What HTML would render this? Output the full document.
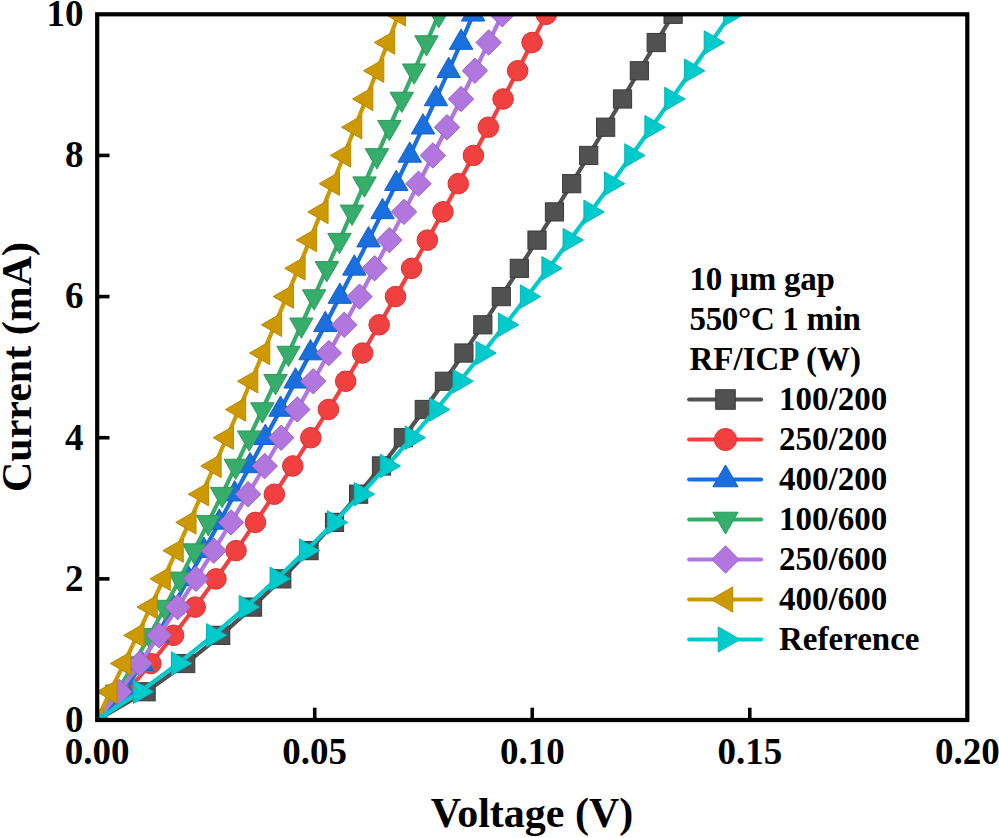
<!DOCTYPE html><html><head><meta charset="utf-8"><style>html,body{margin:0;padding:0;background:#fff}svg{display:block}</style></head><body><svg width="999" height="838" viewBox="0 0 999 838">
<rect width="999" height="838" fill="#fff"/>
<defs><clipPath id="c"><rect x="97.2" y="14.3" width="870.0999999999999" height="705.7"/></clipPath></defs>
<g clip-path="url(#c)">
<path d="M97.00 720.00 L146.10 691.77 L185.69 663.54 L220.72 635.32 L252.51 607.09 L281.78 578.86 L309.01 550.63 L334.54 522.40 L358.63 494.18 L381.51 465.95 L403.34 437.72 L424.27 409.49 L444.42 381.26 L463.91 353.04 L482.83 324.81 L501.28 296.58 L519.31 268.35 L537.01 240.12 L554.44 211.90 L571.65 183.67 L588.70 155.44 L605.64 127.21 L622.51 98.98 L639.35 70.76 L656.21 42.53 L673.12 14.30" fill="none" stroke="#515151" stroke-width="4.2" stroke-linejoin="round"/>
<rect x="87.90" y="710.90" width="18.20" height="18.20" fill="#515151" stroke="#3a3a3a" stroke-width="1.0"/>
<rect x="137.00" y="682.67" width="18.20" height="18.20" fill="#515151" stroke="#3a3a3a" stroke-width="1.0"/>
<rect x="176.59" y="654.44" width="18.20" height="18.20" fill="#515151" stroke="#3a3a3a" stroke-width="1.0"/>
<rect x="211.62" y="626.22" width="18.20" height="18.20" fill="#515151" stroke="#3a3a3a" stroke-width="1.0"/>
<rect x="243.41" y="597.99" width="18.20" height="18.20" fill="#515151" stroke="#3a3a3a" stroke-width="1.0"/>
<rect x="272.68" y="569.76" width="18.20" height="18.20" fill="#515151" stroke="#3a3a3a" stroke-width="1.0"/>
<rect x="299.91" y="541.53" width="18.20" height="18.20" fill="#515151" stroke="#3a3a3a" stroke-width="1.0"/>
<rect x="325.44" y="513.30" width="18.20" height="18.20" fill="#515151" stroke="#3a3a3a" stroke-width="1.0"/>
<rect x="349.53" y="485.08" width="18.20" height="18.20" fill="#515151" stroke="#3a3a3a" stroke-width="1.0"/>
<rect x="372.41" y="456.85" width="18.20" height="18.20" fill="#515151" stroke="#3a3a3a" stroke-width="1.0"/>
<rect x="394.24" y="428.62" width="18.20" height="18.20" fill="#515151" stroke="#3a3a3a" stroke-width="1.0"/>
<rect x="415.17" y="400.39" width="18.20" height="18.20" fill="#515151" stroke="#3a3a3a" stroke-width="1.0"/>
<rect x="435.32" y="372.16" width="18.20" height="18.20" fill="#515151" stroke="#3a3a3a" stroke-width="1.0"/>
<rect x="454.81" y="343.94" width="18.20" height="18.20" fill="#515151" stroke="#3a3a3a" stroke-width="1.0"/>
<rect x="473.73" y="315.71" width="18.20" height="18.20" fill="#515151" stroke="#3a3a3a" stroke-width="1.0"/>
<rect x="492.18" y="287.48" width="18.20" height="18.20" fill="#515151" stroke="#3a3a3a" stroke-width="1.0"/>
<rect x="510.21" y="259.25" width="18.20" height="18.20" fill="#515151" stroke="#3a3a3a" stroke-width="1.0"/>
<rect x="527.91" y="231.02" width="18.20" height="18.20" fill="#515151" stroke="#3a3a3a" stroke-width="1.0"/>
<rect x="545.34" y="202.80" width="18.20" height="18.20" fill="#515151" stroke="#3a3a3a" stroke-width="1.0"/>
<rect x="562.55" y="174.57" width="18.20" height="18.20" fill="#515151" stroke="#3a3a3a" stroke-width="1.0"/>
<rect x="579.60" y="146.34" width="18.20" height="18.20" fill="#515151" stroke="#3a3a3a" stroke-width="1.0"/>
<rect x="596.54" y="118.11" width="18.20" height="18.20" fill="#515151" stroke="#3a3a3a" stroke-width="1.0"/>
<rect x="613.41" y="89.88" width="18.20" height="18.20" fill="#515151" stroke="#3a3a3a" stroke-width="1.0"/>
<rect x="630.25" y="61.66" width="18.20" height="18.20" fill="#515151" stroke="#3a3a3a" stroke-width="1.0"/>
<rect x="647.11" y="33.43" width="18.20" height="18.20" fill="#515151" stroke="#3a3a3a" stroke-width="1.0"/>
<rect x="664.02" y="5.20" width="18.20" height="18.20" fill="#515151" stroke="#3a3a3a" stroke-width="1.0"/>
<path d="M97.00 720.00 L126.52 691.77 L150.86 663.54 L173.59 635.32 L195.20 607.09 L215.96 578.86 L236.01 550.63 L255.46 522.40 L274.36 494.18 L292.80 465.95 L310.80 437.72 L328.41 409.49 L345.66 381.26 L362.58 353.04 L379.18 324.81 L395.51 296.58 L411.56 268.35 L427.36 240.12 L442.93 211.90 L458.27 183.67 L473.40 155.44 L488.34 127.21 L503.08 98.98 L517.65 70.76 L532.05 42.53 L546.28 14.30" fill="none" stroke="#F14040" stroke-width="4.2" stroke-linejoin="round"/>
<circle cx="97.00" cy="720.00" r="10.30" fill="#F14040" stroke="#d83434" stroke-width="1.0"/>
<circle cx="126.52" cy="691.77" r="10.30" fill="#F14040" stroke="#d83434" stroke-width="1.0"/>
<circle cx="150.86" cy="663.54" r="10.30" fill="#F14040" stroke="#d83434" stroke-width="1.0"/>
<circle cx="173.59" cy="635.32" r="10.30" fill="#F14040" stroke="#d83434" stroke-width="1.0"/>
<circle cx="195.20" cy="607.09" r="10.30" fill="#F14040" stroke="#d83434" stroke-width="1.0"/>
<circle cx="215.96" cy="578.86" r="10.30" fill="#F14040" stroke="#d83434" stroke-width="1.0"/>
<circle cx="236.01" cy="550.63" r="10.30" fill="#F14040" stroke="#d83434" stroke-width="1.0"/>
<circle cx="255.46" cy="522.40" r="10.30" fill="#F14040" stroke="#d83434" stroke-width="1.0"/>
<circle cx="274.36" cy="494.18" r="10.30" fill="#F14040" stroke="#d83434" stroke-width="1.0"/>
<circle cx="292.80" cy="465.95" r="10.30" fill="#F14040" stroke="#d83434" stroke-width="1.0"/>
<circle cx="310.80" cy="437.72" r="10.30" fill="#F14040" stroke="#d83434" stroke-width="1.0"/>
<circle cx="328.41" cy="409.49" r="10.30" fill="#F14040" stroke="#d83434" stroke-width="1.0"/>
<circle cx="345.66" cy="381.26" r="10.30" fill="#F14040" stroke="#d83434" stroke-width="1.0"/>
<circle cx="362.58" cy="353.04" r="10.30" fill="#F14040" stroke="#d83434" stroke-width="1.0"/>
<circle cx="379.18" cy="324.81" r="10.30" fill="#F14040" stroke="#d83434" stroke-width="1.0"/>
<circle cx="395.51" cy="296.58" r="10.30" fill="#F14040" stroke="#d83434" stroke-width="1.0"/>
<circle cx="411.56" cy="268.35" r="10.30" fill="#F14040" stroke="#d83434" stroke-width="1.0"/>
<circle cx="427.36" cy="240.12" r="10.30" fill="#F14040" stroke="#d83434" stroke-width="1.0"/>
<circle cx="442.93" cy="211.90" r="10.30" fill="#F14040" stroke="#d83434" stroke-width="1.0"/>
<circle cx="458.27" cy="183.67" r="10.30" fill="#F14040" stroke="#d83434" stroke-width="1.0"/>
<circle cx="473.40" cy="155.44" r="10.30" fill="#F14040" stroke="#d83434" stroke-width="1.0"/>
<circle cx="488.34" cy="127.21" r="10.30" fill="#F14040" stroke="#d83434" stroke-width="1.0"/>
<circle cx="503.08" cy="98.98" r="10.30" fill="#F14040" stroke="#d83434" stroke-width="1.0"/>
<circle cx="517.65" cy="70.76" r="10.30" fill="#F14040" stroke="#d83434" stroke-width="1.0"/>
<circle cx="532.05" cy="42.53" r="10.30" fill="#F14040" stroke="#d83434" stroke-width="1.0"/>
<circle cx="546.28" cy="14.30" r="10.30" fill="#F14040" stroke="#d83434" stroke-width="1.0"/>
<path d="M97.00 720.00 L124.73 691.77 L141.46 663.54 L157.30 635.32 L172.88 607.09 L188.38 578.86 L203.84 550.63 L219.29 522.40 L234.69 494.18 L250.04 465.95 L265.32 437.72 L280.51 409.49 L295.57 381.26 L310.50 353.04 L325.28 324.81 L339.88 296.58 L354.30 268.35 L368.51 240.12 L382.50 211.90 L396.25 183.67 L409.76 155.44 L423.01 127.21 L435.99 98.98 L448.68 70.76 L461.08 42.53 L473.18 14.30" fill="none" stroke="#1A6FDF" stroke-width="4.2" stroke-linejoin="round"/>
<polygon points="97.00,706.45 108.73,726.77 85.27,726.77" fill="#1A6FDF" stroke="#1660c8" stroke-width="1.0" stroke-linejoin="round"/>
<polygon points="124.73,678.22 136.46,698.55 112.99,698.55" fill="#1A6FDF" stroke="#1660c8" stroke-width="1.0" stroke-linejoin="round"/>
<polygon points="141.46,649.99 153.20,670.32 129.73,670.32" fill="#1A6FDF" stroke="#1660c8" stroke-width="1.0" stroke-linejoin="round"/>
<polygon points="157.30,621.77 169.03,642.09 145.56,642.09" fill="#1A6FDF" stroke="#1660c8" stroke-width="1.0" stroke-linejoin="round"/>
<polygon points="172.88,593.54 184.61,613.86 161.14,613.86" fill="#1A6FDF" stroke="#1660c8" stroke-width="1.0" stroke-linejoin="round"/>
<polygon points="188.38,565.31 200.11,585.63 176.64,585.63" fill="#1A6FDF" stroke="#1660c8" stroke-width="1.0" stroke-linejoin="round"/>
<polygon points="203.84,537.08 215.58,557.41 192.11,557.41" fill="#1A6FDF" stroke="#1660c8" stroke-width="1.0" stroke-linejoin="round"/>
<polygon points="219.29,508.85 231.02,529.18 207.55,529.18" fill="#1A6FDF" stroke="#1660c8" stroke-width="1.0" stroke-linejoin="round"/>
<polygon points="234.69,480.63 246.43,500.95 222.96,500.95" fill="#1A6FDF" stroke="#1660c8" stroke-width="1.0" stroke-linejoin="round"/>
<polygon points="250.04,452.40 261.78,472.72 238.31,472.72" fill="#1A6FDF" stroke="#1660c8" stroke-width="1.0" stroke-linejoin="round"/>
<polygon points="265.32,424.17 277.06,444.49 253.59,444.49" fill="#1A6FDF" stroke="#1660c8" stroke-width="1.0" stroke-linejoin="round"/>
<polygon points="280.51,395.94 292.24,416.27 268.77,416.27" fill="#1A6FDF" stroke="#1660c8" stroke-width="1.0" stroke-linejoin="round"/>
<polygon points="295.57,367.71 307.31,388.04 283.84,388.04" fill="#1A6FDF" stroke="#1660c8" stroke-width="1.0" stroke-linejoin="round"/>
<polygon points="310.50,339.49 322.24,359.81 298.77,359.81" fill="#1A6FDF" stroke="#1660c8" stroke-width="1.0" stroke-linejoin="round"/>
<polygon points="325.28,311.26 337.01,331.58 313.55,331.58" fill="#1A6FDF" stroke="#1660c8" stroke-width="1.0" stroke-linejoin="round"/>
<polygon points="339.88,283.03 351.62,303.35 328.15,303.35" fill="#1A6FDF" stroke="#1660c8" stroke-width="1.0" stroke-linejoin="round"/>
<polygon points="354.30,254.80 366.03,275.13 342.56,275.13" fill="#1A6FDF" stroke="#1660c8" stroke-width="1.0" stroke-linejoin="round"/>
<polygon points="368.51,226.57 380.24,246.90 356.77,246.90" fill="#1A6FDF" stroke="#1660c8" stroke-width="1.0" stroke-linejoin="round"/>
<polygon points="382.50,198.35 394.23,218.67 370.76,218.67" fill="#1A6FDF" stroke="#1660c8" stroke-width="1.0" stroke-linejoin="round"/>
<polygon points="396.25,170.12 407.99,190.44 384.52,190.44" fill="#1A6FDF" stroke="#1660c8" stroke-width="1.0" stroke-linejoin="round"/>
<polygon points="409.76,141.89 421.50,162.21 398.03,162.21" fill="#1A6FDF" stroke="#1660c8" stroke-width="1.0" stroke-linejoin="round"/>
<polygon points="423.01,113.66 434.75,133.99 411.28,133.99" fill="#1A6FDF" stroke="#1660c8" stroke-width="1.0" stroke-linejoin="round"/>
<polygon points="435.99,85.43 447.72,105.76 424.26,105.76" fill="#1A6FDF" stroke="#1660c8" stroke-width="1.0" stroke-linejoin="round"/>
<polygon points="448.68,57.21 460.42,77.53 436.95,77.53" fill="#1A6FDF" stroke="#1660c8" stroke-width="1.0" stroke-linejoin="round"/>
<polygon points="461.08,28.98 472.82,49.30 449.35,49.30" fill="#1A6FDF" stroke="#1660c8" stroke-width="1.0" stroke-linejoin="round"/>
<polygon points="473.18,0.75 484.91,21.07 461.45,21.07" fill="#1A6FDF" stroke="#1660c8" stroke-width="1.0" stroke-linejoin="round"/>
<path d="M97.00 720.00 L117.14 691.77 L133.96 663.54 L149.82 635.32 L165.04 607.09 L179.80 578.86 L194.19 550.63 L208.27 522.40 L222.10 494.18 L235.71 465.95 L249.13 437.72 L262.38 409.49 L275.50 381.26 L288.48 353.04 L301.36 324.81 L314.14 296.58 L326.84 268.35 L339.46 240.12 L352.02 211.90 L364.52 183.67 L376.98 155.44 L389.40 127.21 L401.79 98.98 L414.15 70.76 L426.50 42.53 L438.82 14.30" fill="none" stroke="#37AD6B" stroke-width="4.2" stroke-linejoin="round"/>
<polygon points="97.00,733.55 108.73,713.23 85.27,713.23" fill="#37AD6B" stroke="#2e9a5c" stroke-width="1.0" stroke-linejoin="round"/>
<polygon points="117.14,705.32 128.87,685.00 105.40,685.00" fill="#37AD6B" stroke="#2e9a5c" stroke-width="1.0" stroke-linejoin="round"/>
<polygon points="133.96,677.09 145.69,656.77 122.23,656.77" fill="#37AD6B" stroke="#2e9a5c" stroke-width="1.0" stroke-linejoin="round"/>
<polygon points="149.82,648.87 161.55,628.54 138.08,628.54" fill="#37AD6B" stroke="#2e9a5c" stroke-width="1.0" stroke-linejoin="round"/>
<polygon points="165.04,620.64 176.78,600.31 153.31,600.31" fill="#37AD6B" stroke="#2e9a5c" stroke-width="1.0" stroke-linejoin="round"/>
<polygon points="179.80,592.41 191.54,572.09 168.07,572.09" fill="#37AD6B" stroke="#2e9a5c" stroke-width="1.0" stroke-linejoin="round"/>
<polygon points="194.19,564.18 205.93,543.86 182.46,543.86" fill="#37AD6B" stroke="#2e9a5c" stroke-width="1.0" stroke-linejoin="round"/>
<polygon points="208.27,535.95 220.01,515.63 196.54,515.63" fill="#37AD6B" stroke="#2e9a5c" stroke-width="1.0" stroke-linejoin="round"/>
<polygon points="222.10,507.73 233.84,487.40 210.37,487.40" fill="#37AD6B" stroke="#2e9a5c" stroke-width="1.0" stroke-linejoin="round"/>
<polygon points="235.71,479.50 247.44,459.17 223.98,459.17" fill="#37AD6B" stroke="#2e9a5c" stroke-width="1.0" stroke-linejoin="round"/>
<polygon points="249.13,451.27 260.86,430.95 237.40,430.95" fill="#37AD6B" stroke="#2e9a5c" stroke-width="1.0" stroke-linejoin="round"/>
<polygon points="262.38,423.04 274.12,402.72 250.65,402.72" fill="#37AD6B" stroke="#2e9a5c" stroke-width="1.0" stroke-linejoin="round"/>
<polygon points="275.50,394.81 287.23,374.49 263.76,374.49" fill="#37AD6B" stroke="#2e9a5c" stroke-width="1.0" stroke-linejoin="round"/>
<polygon points="288.48,366.59 300.22,346.26 276.75,346.26" fill="#37AD6B" stroke="#2e9a5c" stroke-width="1.0" stroke-linejoin="round"/>
<polygon points="301.36,338.36 313.09,318.03 289.62,318.03" fill="#37AD6B" stroke="#2e9a5c" stroke-width="1.0" stroke-linejoin="round"/>
<polygon points="314.14,310.13 325.87,289.81 302.41,289.81" fill="#37AD6B" stroke="#2e9a5c" stroke-width="1.0" stroke-linejoin="round"/>
<polygon points="326.84,281.90 338.57,261.58 315.10,261.58" fill="#37AD6B" stroke="#2e9a5c" stroke-width="1.0" stroke-linejoin="round"/>
<polygon points="339.46,253.67 351.19,233.35 327.72,233.35" fill="#37AD6B" stroke="#2e9a5c" stroke-width="1.0" stroke-linejoin="round"/>
<polygon points="352.02,225.45 363.75,205.12 340.28,205.12" fill="#37AD6B" stroke="#2e9a5c" stroke-width="1.0" stroke-linejoin="round"/>
<polygon points="364.52,197.22 376.26,176.89 352.79,176.89" fill="#37AD6B" stroke="#2e9a5c" stroke-width="1.0" stroke-linejoin="round"/>
<polygon points="376.98,168.99 388.72,148.67 365.25,148.67" fill="#37AD6B" stroke="#2e9a5c" stroke-width="1.0" stroke-linejoin="round"/>
<polygon points="389.40,140.76 401.14,120.44 377.67,120.44" fill="#37AD6B" stroke="#2e9a5c" stroke-width="1.0" stroke-linejoin="round"/>
<polygon points="401.79,112.53 413.53,92.21 390.06,92.21" fill="#37AD6B" stroke="#2e9a5c" stroke-width="1.0" stroke-linejoin="round"/>
<polygon points="414.15,84.31 425.89,63.98 402.42,63.98" fill="#37AD6B" stroke="#2e9a5c" stroke-width="1.0" stroke-linejoin="round"/>
<polygon points="426.50,56.08 438.23,35.75 414.76,35.75" fill="#37AD6B" stroke="#2e9a5c" stroke-width="1.0" stroke-linejoin="round"/>
<polygon points="438.82,27.85 450.56,7.53 427.09,7.53" fill="#37AD6B" stroke="#2e9a5c" stroke-width="1.0" stroke-linejoin="round"/>
<path d="M97.00 720.00 L119.37 691.77 L139.63 663.54 L159.01 635.32 L177.74 607.09 L195.95 578.86 L213.71 550.63 L231.08 522.40 L248.10 494.18 L264.79 465.95 L281.20 437.72 L297.33 409.49 L313.22 381.26 L328.86 353.04 L344.29 324.81 L359.51 296.58 L374.53 268.35 L389.36 240.12 L404.02 211.90 L418.50 183.67 L432.83 155.44 L447.00 127.21 L461.02 98.98 L474.90 70.76 L488.64 42.53 L502.25 14.30" fill="none" stroke="#B177DE" stroke-width="4.2" stroke-linejoin="round"/>
<polygon points="97.00,707.31 109.69,720.00 97.00,732.69 84.31,720.00" fill="#B177DE" stroke="#9c62cc" stroke-width="1.0" stroke-linejoin="round"/>
<polygon points="119.37,679.08 132.06,691.77 119.37,704.47 106.68,691.77" fill="#B177DE" stroke="#9c62cc" stroke-width="1.0" stroke-linejoin="round"/>
<polygon points="139.63,650.85 152.32,663.54 139.63,676.24 126.94,663.54" fill="#B177DE" stroke="#9c62cc" stroke-width="1.0" stroke-linejoin="round"/>
<polygon points="159.01,622.62 171.70,635.32 159.01,648.01 146.31,635.32" fill="#B177DE" stroke="#9c62cc" stroke-width="1.0" stroke-linejoin="round"/>
<polygon points="177.74,594.39 190.43,607.09 177.74,619.78 165.05,607.09" fill="#B177DE" stroke="#9c62cc" stroke-width="1.0" stroke-linejoin="round"/>
<polygon points="195.95,566.17 208.64,578.86 195.95,591.55 183.26,578.86" fill="#B177DE" stroke="#9c62cc" stroke-width="1.0" stroke-linejoin="round"/>
<polygon points="213.71,537.94 226.40,550.63 213.71,563.32 201.02,550.63" fill="#B177DE" stroke="#9c62cc" stroke-width="1.0" stroke-linejoin="round"/>
<polygon points="231.08,509.71 243.77,522.40 231.08,535.10 218.39,522.40" fill="#B177DE" stroke="#9c62cc" stroke-width="1.0" stroke-linejoin="round"/>
<polygon points="248.10,481.48 260.79,494.18 248.10,506.87 235.40,494.18" fill="#B177DE" stroke="#9c62cc" stroke-width="1.0" stroke-linejoin="round"/>
<polygon points="264.79,453.25 277.49,465.95 264.79,478.64 252.10,465.95" fill="#B177DE" stroke="#9c62cc" stroke-width="1.0" stroke-linejoin="round"/>
<polygon points="281.20,425.03 293.89,437.72 281.20,450.41 268.51,437.72" fill="#B177DE" stroke="#9c62cc" stroke-width="1.0" stroke-linejoin="round"/>
<polygon points="297.33,396.80 310.03,409.49 297.33,422.18 284.64,409.49" fill="#B177DE" stroke="#9c62cc" stroke-width="1.0" stroke-linejoin="round"/>
<polygon points="313.22,368.57 325.91,381.26 313.22,393.96 300.52,381.26" fill="#B177DE" stroke="#9c62cc" stroke-width="1.0" stroke-linejoin="round"/>
<polygon points="328.86,340.34 341.56,353.04 328.86,365.73 316.17,353.04" fill="#B177DE" stroke="#9c62cc" stroke-width="1.0" stroke-linejoin="round"/>
<polygon points="344.29,312.11 356.98,324.81 344.29,337.50 331.60,324.81" fill="#B177DE" stroke="#9c62cc" stroke-width="1.0" stroke-linejoin="round"/>
<polygon points="359.51,283.89 372.20,296.58 359.51,309.27 346.82,296.58" fill="#B177DE" stroke="#9c62cc" stroke-width="1.0" stroke-linejoin="round"/>
<polygon points="374.53,255.66 387.22,268.35 374.53,281.04 361.84,268.35" fill="#B177DE" stroke="#9c62cc" stroke-width="1.0" stroke-linejoin="round"/>
<polygon points="389.36,227.43 402.05,240.12 389.36,252.82 376.67,240.12" fill="#B177DE" stroke="#9c62cc" stroke-width="1.0" stroke-linejoin="round"/>
<polygon points="404.02,199.20 416.71,211.90 404.02,224.59 391.32,211.90" fill="#B177DE" stroke="#9c62cc" stroke-width="1.0" stroke-linejoin="round"/>
<polygon points="418.50,170.97 431.20,183.67 418.50,196.36 405.81,183.67" fill="#B177DE" stroke="#9c62cc" stroke-width="1.0" stroke-linejoin="round"/>
<polygon points="432.83,142.75 445.52,155.44 432.83,168.13 420.13,155.44" fill="#B177DE" stroke="#9c62cc" stroke-width="1.0" stroke-linejoin="round"/>
<polygon points="447.00,114.52 459.69,127.21 447.00,139.90 434.30,127.21" fill="#B177DE" stroke="#9c62cc" stroke-width="1.0" stroke-linejoin="round"/>
<polygon points="461.02,86.29 473.71,98.98 461.02,111.68 448.33,98.98" fill="#B177DE" stroke="#9c62cc" stroke-width="1.0" stroke-linejoin="round"/>
<polygon points="474.90,58.06 487.59,70.76 474.90,83.45 462.20,70.76" fill="#B177DE" stroke="#9c62cc" stroke-width="1.0" stroke-linejoin="round"/>
<polygon points="488.64,29.83 501.33,42.53 488.64,55.22 475.95,42.53" fill="#B177DE" stroke="#9c62cc" stroke-width="1.0" stroke-linejoin="round"/>
<polygon points="502.25,1.61 514.95,14.30 502.25,26.99 489.56,14.30" fill="#B177DE" stroke="#9c62cc" stroke-width="1.0" stroke-linejoin="round"/>
<path d="M97.00 720.00 L110.34 691.77 L123.90 663.54 L137.30 635.32 L150.52 607.09 L163.58 578.86 L176.49 550.63 L189.24 522.40 L201.86 494.18 L214.35 465.95 L226.70 437.72 L238.93 409.49 L251.04 381.26 L263.03 353.04 L274.90 324.81 L286.67 296.58 L298.32 268.35 L309.87 240.12 L321.32 211.90 L332.66 183.67 L343.90 155.44 L355.05 127.21 L366.09 98.98 L377.04 70.76 L387.90 42.53 L398.67 14.30" fill="none" stroke="#CC9900" stroke-width="4.2" stroke-linejoin="round"/>
<polygon points="83.45,720.00 103.77,708.27 103.77,731.73" fill="#CC9900" stroke="#b88a00" stroke-width="1.0" stroke-linejoin="round"/>
<polygon points="96.79,691.77 117.11,680.04 117.11,703.51" fill="#CC9900" stroke="#b88a00" stroke-width="1.0" stroke-linejoin="round"/>
<polygon points="110.35,663.54 130.68,651.81 130.68,675.28" fill="#CC9900" stroke="#b88a00" stroke-width="1.0" stroke-linejoin="round"/>
<polygon points="123.75,635.32 144.07,623.58 144.07,647.05" fill="#CC9900" stroke="#b88a00" stroke-width="1.0" stroke-linejoin="round"/>
<polygon points="136.97,607.09 157.29,595.35 157.29,618.82" fill="#CC9900" stroke="#b88a00" stroke-width="1.0" stroke-linejoin="round"/>
<polygon points="150.03,578.86 170.35,567.13 170.35,590.59" fill="#CC9900" stroke="#b88a00" stroke-width="1.0" stroke-linejoin="round"/>
<polygon points="162.94,550.63 183.26,538.90 183.26,562.37" fill="#CC9900" stroke="#b88a00" stroke-width="1.0" stroke-linejoin="round"/>
<polygon points="175.70,522.40 196.02,510.67 196.02,534.14" fill="#CC9900" stroke="#b88a00" stroke-width="1.0" stroke-linejoin="round"/>
<polygon points="188.31,494.18 208.64,482.44 208.64,505.91" fill="#CC9900" stroke="#b88a00" stroke-width="1.0" stroke-linejoin="round"/>
<polygon points="200.80,465.95 221.12,454.21 221.12,477.68" fill="#CC9900" stroke="#b88a00" stroke-width="1.0" stroke-linejoin="round"/>
<polygon points="213.15,437.72 233.48,425.99 233.48,449.45" fill="#CC9900" stroke="#b88a00" stroke-width="1.0" stroke-linejoin="round"/>
<polygon points="225.38,409.49 245.70,397.76 245.70,421.23" fill="#CC9900" stroke="#b88a00" stroke-width="1.0" stroke-linejoin="round"/>
<polygon points="237.49,381.26 257.81,369.53 257.81,393.00" fill="#CC9900" stroke="#b88a00" stroke-width="1.0" stroke-linejoin="round"/>
<polygon points="249.48,353.04 269.80,341.30 269.80,364.77" fill="#CC9900" stroke="#b88a00" stroke-width="1.0" stroke-linejoin="round"/>
<polygon points="261.36,324.81 281.68,313.07 281.68,336.54" fill="#CC9900" stroke="#b88a00" stroke-width="1.0" stroke-linejoin="round"/>
<polygon points="273.12,296.58 293.44,284.85 293.44,308.31" fill="#CC9900" stroke="#b88a00" stroke-width="1.0" stroke-linejoin="round"/>
<polygon points="284.78,268.35 305.10,256.62 305.10,280.09" fill="#CC9900" stroke="#b88a00" stroke-width="1.0" stroke-linejoin="round"/>
<polygon points="296.32,240.12 316.65,228.39 316.65,251.86" fill="#CC9900" stroke="#b88a00" stroke-width="1.0" stroke-linejoin="round"/>
<polygon points="307.77,211.90 328.09,200.16 328.09,223.63" fill="#CC9900" stroke="#b88a00" stroke-width="1.0" stroke-linejoin="round"/>
<polygon points="319.11,183.67 339.44,171.93 339.44,195.40" fill="#CC9900" stroke="#b88a00" stroke-width="1.0" stroke-linejoin="round"/>
<polygon points="330.35,155.44 350.68,143.71 350.68,167.17" fill="#CC9900" stroke="#b88a00" stroke-width="1.0" stroke-linejoin="round"/>
<polygon points="341.50,127.21 361.82,115.48 361.82,138.95" fill="#CC9900" stroke="#b88a00" stroke-width="1.0" stroke-linejoin="round"/>
<polygon points="352.54,98.98 372.87,87.25 372.87,110.72" fill="#CC9900" stroke="#b88a00" stroke-width="1.0" stroke-linejoin="round"/>
<polygon points="363.50,70.76 383.82,59.02 383.82,82.49" fill="#CC9900" stroke="#b88a00" stroke-width="1.0" stroke-linejoin="round"/>
<polygon points="374.35,42.53 394.68,30.79 394.68,54.26" fill="#CC9900" stroke="#b88a00" stroke-width="1.0" stroke-linejoin="round"/>
<polygon points="385.12,14.30 405.44,2.57 405.44,26.03" fill="#CC9900" stroke="#b88a00" stroke-width="1.0" stroke-linejoin="round"/>
<path d="M97.00 720.00 L140.01 691.77 L178.17 663.54 L213.22 635.32 L245.96 607.09 L276.84 578.86 L306.16 550.63 L334.18 522.40 L361.05 494.18 L386.94 465.95 L411.96 437.72 L436.21 409.49 L459.78 381.26 L482.74 353.04 L505.18 324.81 L527.14 296.58 L548.67 268.35 L569.84 240.12 L590.68 211.90 L611.24 183.67 L631.54 155.44 L651.64 127.21 L671.56 98.98 L691.32 70.76 L710.96 42.53 L730.51 14.30" fill="none" stroke="#00CBCC" stroke-width="4.2" stroke-linejoin="round"/>
<polygon points="110.55,720.00 90.23,708.27 90.23,731.73" fill="#00CBCC" stroke="#00b5b6" stroke-width="1.0" stroke-linejoin="round"/>
<polygon points="153.56,691.77 133.24,680.04 133.24,703.51" fill="#00CBCC" stroke="#00b5b6" stroke-width="1.0" stroke-linejoin="round"/>
<polygon points="191.71,663.54 171.39,651.81 171.39,675.28" fill="#00CBCC" stroke="#00b5b6" stroke-width="1.0" stroke-linejoin="round"/>
<polygon points="226.77,635.32 206.45,623.58 206.45,647.05" fill="#00CBCC" stroke="#00b5b6" stroke-width="1.0" stroke-linejoin="round"/>
<polygon points="259.51,607.09 239.18,595.35 239.18,618.82" fill="#00CBCC" stroke="#00b5b6" stroke-width="1.0" stroke-linejoin="round"/>
<polygon points="290.38,578.86 270.06,567.13 270.06,590.59" fill="#00CBCC" stroke="#00b5b6" stroke-width="1.0" stroke-linejoin="round"/>
<polygon points="319.71,550.63 299.39,538.90 299.39,562.37" fill="#00CBCC" stroke="#00b5b6" stroke-width="1.0" stroke-linejoin="round"/>
<polygon points="347.73,522.40 327.40,510.67 327.40,534.14" fill="#00CBCC" stroke="#00b5b6" stroke-width="1.0" stroke-linejoin="round"/>
<polygon points="374.60,494.18 354.28,482.44 354.28,505.91" fill="#00CBCC" stroke="#00b5b6" stroke-width="1.0" stroke-linejoin="round"/>
<polygon points="400.49,465.95 380.16,454.21 380.16,477.68" fill="#00CBCC" stroke="#00b5b6" stroke-width="1.0" stroke-linejoin="round"/>
<polygon points="425.51,437.72 405.18,425.99 405.18,449.45" fill="#00CBCC" stroke="#00b5b6" stroke-width="1.0" stroke-linejoin="round"/>
<polygon points="449.76,409.49 429.43,397.76 429.43,421.23" fill="#00CBCC" stroke="#00b5b6" stroke-width="1.0" stroke-linejoin="round"/>
<polygon points="473.33,381.26 453.00,369.53 453.00,393.00" fill="#00CBCC" stroke="#00b5b6" stroke-width="1.0" stroke-linejoin="round"/>
<polygon points="496.29,353.04 475.97,341.30 475.97,364.77" fill="#00CBCC" stroke="#00b5b6" stroke-width="1.0" stroke-linejoin="round"/>
<polygon points="518.73,324.81 498.40,313.07 498.40,336.54" fill="#00CBCC" stroke="#00b5b6" stroke-width="1.0" stroke-linejoin="round"/>
<polygon points="540.68,296.58 520.36,284.85 520.36,308.31" fill="#00CBCC" stroke="#00b5b6" stroke-width="1.0" stroke-linejoin="round"/>
<polygon points="562.22,268.35 541.90,256.62 541.90,280.09" fill="#00CBCC" stroke="#00b5b6" stroke-width="1.0" stroke-linejoin="round"/>
<polygon points="583.39,240.12 563.07,228.39 563.07,251.86" fill="#00CBCC" stroke="#00b5b6" stroke-width="1.0" stroke-linejoin="round"/>
<polygon points="604.23,211.90 583.91,200.16 583.91,223.63" fill="#00CBCC" stroke="#00b5b6" stroke-width="1.0" stroke-linejoin="round"/>
<polygon points="624.79,183.67 604.46,171.93 604.46,195.40" fill="#00CBCC" stroke="#00b5b6" stroke-width="1.0" stroke-linejoin="round"/>
<polygon points="645.09,155.44 624.77,143.71 624.77,167.17" fill="#00CBCC" stroke="#00b5b6" stroke-width="1.0" stroke-linejoin="round"/>
<polygon points="665.19,127.21 644.87,115.48 644.87,138.95" fill="#00CBCC" stroke="#00b5b6" stroke-width="1.0" stroke-linejoin="round"/>
<polygon points="685.10,98.98 664.78,87.25 664.78,110.72" fill="#00CBCC" stroke="#00b5b6" stroke-width="1.0" stroke-linejoin="round"/>
<polygon points="704.87,70.76 684.55,59.02 684.55,82.49" fill="#00CBCC" stroke="#00b5b6" stroke-width="1.0" stroke-linejoin="round"/>
<polygon points="724.51,42.53 704.19,30.79 704.19,54.26" fill="#00CBCC" stroke="#00b5b6" stroke-width="1.0" stroke-linejoin="round"/>
<polygon points="744.06,14.30 723.74,2.57 723.74,26.03" fill="#00CBCC" stroke="#00b5b6" stroke-width="1.0" stroke-linejoin="round"/>
</g>
<rect x="97.2" y="14.3" width="870.0999999999999" height="705.7" fill="none" stroke="#000" stroke-width="4.2" stroke-linejoin="miter"/>
<line x1="314.72" y1="720.0" x2="314.72" y2="707.7" stroke="#000" stroke-width="3.6"/>
<line x1="532.25" y1="720.0" x2="532.25" y2="707.7" stroke="#000" stroke-width="3.6"/>
<line x1="749.77" y1="720.0" x2="749.77" y2="707.7" stroke="#000" stroke-width="3.6"/>
<line x1="97.2" y1="578.86" x2="109.5" y2="578.86" stroke="#000" stroke-width="3.6"/>
<line x1="97.2" y1="437.72" x2="109.5" y2="437.72" stroke="#000" stroke-width="3.6"/>
<line x1="97.2" y1="296.58" x2="109.5" y2="296.58" stroke="#000" stroke-width="3.6"/>
<line x1="97.2" y1="155.44" x2="109.5" y2="155.44" stroke="#000" stroke-width="3.6"/>
<g>
<text x="97.20" y="763.7" font-family="Liberation Serif" font-weight="bold" font-size="37" text-anchor="middle">0.00</text>
<text x="314.72" y="763.7" font-family="Liberation Serif" font-weight="bold" font-size="37" text-anchor="middle">0.05</text>
<text x="532.25" y="763.7" font-family="Liberation Serif" font-weight="bold" font-size="37" text-anchor="middle">0.10</text>
<text x="749.77" y="763.7" font-family="Liberation Serif" font-weight="bold" font-size="37" text-anchor="middle">0.15</text>
<text x="967.30" y="763.7" font-family="Liberation Serif" font-weight="bold" font-size="37" text-anchor="middle">0.20</text>
<text x="83.4" y="731.80" font-family="Liberation Serif" font-weight="bold" font-size="37" text-anchor="end">0</text>
<text x="83.4" y="590.66" font-family="Liberation Serif" font-weight="bold" font-size="37" text-anchor="end">2</text>
<text x="83.4" y="449.52" font-family="Liberation Serif" font-weight="bold" font-size="37" text-anchor="end">4</text>
<text x="83.4" y="308.38" font-family="Liberation Serif" font-weight="bold" font-size="37" text-anchor="end">6</text>
<text x="83.4" y="167.24" font-family="Liberation Serif" font-weight="bold" font-size="37" text-anchor="end">8</text>
<text x="83.4" y="26.10" font-family="Liberation Serif" font-weight="bold" font-size="37" text-anchor="end">10</text>
<text x="532" y="827" font-family="Liberation Serif" font-weight="bold" font-size="42" text-anchor="middle">Voltage (V)</text>
<text transform="translate(31 367) rotate(-90)" x="0" y="0" font-family="Liberation Serif" font-weight="bold" font-size="42" text-anchor="middle">Current (mA)</text>
<text x="689.5" y="290" font-family="Liberation Serif" font-weight="bold" font-size="33" letter-spacing="-0.2">10 μm gap</text>
<text x="689.5" y="330" font-family="Liberation Serif" font-weight="bold" font-size="33" letter-spacing="-0.32">550°C 1 min</text>
<text x="689.5" y="370" font-family="Liberation Serif" font-weight="bold" font-size="33" letter-spacing="0">RF/ICP (W)</text>
<line x1="689.2" y1="399.5" x2="761.1" y2="399.5" stroke="#515151" stroke-width="4.2" stroke-linecap="round"/>
<rect x="715.73" y="389.73" width="19.54" height="19.54" fill="#515151" stroke="#3a3a3a" stroke-width="1.0"/>
<text x="779" y="410" font-family="Liberation Serif" font-weight="bold" font-size="33">100/200</text>
<line x1="689.2" y1="439.5" x2="761.1" y2="439.5" stroke="#F14040" stroke-width="4.2" stroke-linecap="round"/>
<circle cx="725.50" cy="439.50" r="11.06" fill="#F14040" stroke="#d83434" stroke-width="1.0"/>
<text x="779" y="450" font-family="Liberation Serif" font-weight="bold" font-size="33">250/200</text>
<line x1="689.2" y1="479.5" x2="761.1" y2="479.5" stroke="#1A6FDF" stroke-width="4.2" stroke-linecap="round"/>
<polygon points="725.50,464.93 738.12,486.78 712.88,486.78" fill="#1A6FDF" stroke="#1660c8" stroke-width="1.0" stroke-linejoin="round"/>
<text x="779" y="490" font-family="Liberation Serif" font-weight="bold" font-size="33">400/200</text>
<line x1="689.2" y1="519.5" x2="761.1" y2="519.5" stroke="#37AD6B" stroke-width="4.2" stroke-linecap="round"/>
<polygon points="725.50,534.07 738.12,512.22 712.88,512.22" fill="#37AD6B" stroke="#2e9a5c" stroke-width="1.0" stroke-linejoin="round"/>
<text x="779" y="530" font-family="Liberation Serif" font-weight="bold" font-size="33">100/600</text>
<line x1="689.2" y1="559.5" x2="761.1" y2="559.5" stroke="#B177DE" stroke-width="4.2" stroke-linecap="round"/>
<polygon points="725.50,545.87 739.13,559.50 725.50,573.13 711.87,559.50" fill="#B177DE" stroke="#9c62cc" stroke-width="1.0" stroke-linejoin="round"/>
<text x="779" y="570" font-family="Liberation Serif" font-weight="bold" font-size="33">250/600</text>
<line x1="689.2" y1="599.5" x2="761.1" y2="599.5" stroke="#CC9900" stroke-width="4.2" stroke-linecap="round"/>
<polygon points="710.93,599.50 732.78,586.88 732.78,612.12" fill="#CC9900" stroke="#b88a00" stroke-width="1.0" stroke-linejoin="round"/>
<text x="779" y="610" font-family="Liberation Serif" font-weight="bold" font-size="33">400/600</text>
<line x1="689.2" y1="639.5" x2="761.1" y2="639.5" stroke="#00CBCC" stroke-width="4.2" stroke-linecap="round"/>
<polygon points="740.07,639.50 718.22,626.88 718.22,652.12" fill="#00CBCC" stroke="#00b5b6" stroke-width="1.0" stroke-linejoin="round"/>
<text x="779" y="650" font-family="Liberation Serif" font-weight="bold" font-size="33">Reference</text>
</g>
</svg></body></html>
